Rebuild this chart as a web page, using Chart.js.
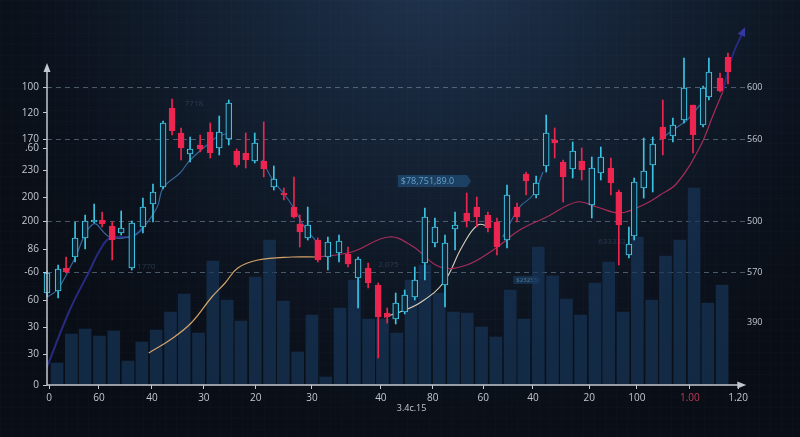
<!DOCTYPE html>
<html>
<head>
<meta charset="utf-8">
<script src="https://cdn.jsdelivr.net/npm/chart.js@4.4.1/dist/chart.umd.min.js"></script>
<style>
  html, body { margin: 0; padding: 0; background: #0a1019; }
  #wrap { width: 800px; height: 437px; position: relative; }
</style>
</head>
<body>
<div id="wrap"><canvas id="chart"></canvas></div>
<script>
/* global Chart */

// --- axis ticks (positions in axis units, labels as printed) ---
const xTickPos = [0.04, 0.98, 1.98, 2.96, 3.94, 5.0, 6.3, 7.28, 8.23, 9.17, 10.23, 11.13, 12.13, 13.04];
const xTickLabels = ['0', '60', '40', '30', '20', '30', '40', '80', '60', '40', '20', '100', '1.00', '1.20'];
const yLeftPos = [0, 31, 58, 85, 113, 136, 164, 188, 215, 237, 246, 272, 298];
const yLeftLabels = ['0', '30', '30', '60', '-60', '86', '200', '200', '230', '.60', '170', '120', '100'];
const yRightPos = [63, 113, 164, 246, 298];
const yRightLabels = ['390', '570', '500', '560', '600'];
const dashedLevels = [113, 164, 246, 298];

// --- candles ---
const candleX = [0.00, 0.21, 0.36, 0.53, 0.72, 0.89, 1.04, 1.23, 1.40, 1.60,
  1.81, 2.00, 2.19, 2.36, 2.53, 2.70, 2.89, 3.08, 3.25, 3.43,
  3.58, 3.75, 3.92, 4.09, 4.28, 4.47, 4.66, 4.77, 4.92, 5.11,
  5.30, 5.51, 5.68, 5.87, 6.06, 6.25, 6.42, 6.58, 6.75, 6.94,
  7.13, 7.32, 7.51, 7.70, 7.92, 8.11, 8.32, 8.49, 8.68, 8.87,
  9.04, 9.23, 9.42, 9.58, 9.74, 9.92, 10.09, 10.28, 10.45, 10.64,
  10.79, 10.98, 11.08, 11.26, 11.43, 11.62, 11.81, 12.02, 12.19, 12.38,
  12.49, 12.70, 12.85];
const openV = [92, 94, 117, 128, 147, 163, 165, 159, 152, 117,
  158, 181, 198, 277, 252, 231, 240, 253, 237, 246,
  234, 232, 224, 224, 198, 192, 178, 161, 147, 145,
  128, 132, 131, 107, 117, 100, 72, 66, 73, 88,
  122, 142, 100, 156, 172, 178, 170, 163, 145, 178,
  211, 190, 219, 245, 223, 216, 224, 180, 212, 217,
  193, 130, 149, 197, 220, 258, 249, 265, 280, 260,
  288, 307, 328];
const closeV = [112, 116, 113, 147, 164, 165, 161, 145, 157, 162,
  178, 193, 262, 254, 237, 236, 236, 232, 253, 282,
  220, 225, 242, 216, 206, 190, 168, 153, 160, 125,
  143, 144, 121, 126, 102, 68, 68, 82, 90, 105,
  168, 158, 142, 160, 164, 168, 157, 138, 190, 168,
  204, 202, 252, 242, 208, 234, 215, 217, 228, 202,
  160, 141, 203, 214, 241, 246, 260, 297, 250, 297,
  313, 294, 313];
const highV = [114, 120, 128, 163, 170, 181, 173, 163, 174, 164,
  187, 201, 264, 286, 257, 248, 250, 262, 269, 285,
  236, 252, 252, 263, 219, 197, 208, 170, 178, 147,
  148, 150, 138, 128, 122, 102, 77, 92, 95, 118,
  177, 167, 150, 173, 192, 188, 173, 167, 200, 182,
  213, 209, 270, 257, 225, 243, 237, 228, 238, 227,
  195, 158, 207, 247, 248, 285, 267, 327, 280, 299,
  327, 312, 332];
const lowV = [88, 87, 112, 123, 136, 162, 158, 125, 150, 115,
  152, 163, 196, 250, 225, 223, 233, 227, 230, 240,
  218, 217, 222, 208, 195, 185, 167, 138, 145, 123,
  115, 123, 118, 77, 97, 27, 62, 61, 71, 85,
  105, 138, 78, 135, 158, 158, 153, 130, 137, 163,
  190, 187, 213, 227, 183, 207, 205, 167, 205, 190,
  120, 127, 145, 187, 193, 230, 243, 262, 232, 258,
  285, 293, 301];

// --- volume ---
const volX = [0.19, 0.46, 0.72, 0.99, 1.26, 1.53, 1.79, 2.06, 2.33, 2.59,
  2.86, 3.13, 3.40, 3.66, 3.93, 4.20, 4.46, 4.73, 5.00, 5.26,
  5.53, 5.80, 6.07, 6.33, 6.60, 6.87, 7.13, 7.40, 7.67, 7.93,
  8.20, 8.47, 8.74, 9.00, 9.27, 9.54, 9.80, 10.07, 10.34, 10.60,
  10.87, 11.14, 11.41, 11.67, 11.94, 12.21, 12.47, 12.74];
const volV = [22, 51, 56, 49, 54, 24, 43, 55, 73, 91,
  52, 124, 85, 64, 108, 145, 84, 33, 70, 8,
  77, 105, 66, 66, 52, 105, 120, 92, 73, 72,
  58, 48, 95, 66, 138, 109, 86, 70, 102, 123,
  73, 148, 85, 129, 145, 197, 82, 100];

// --- moving average lines (null = gap) ---
const blueX = [0, 0.19, 0.49, 0.87, 1.19, 1.62, 1.81, 2.08, 2.19, 2.51, 2.70, 3.02, 3.21, 3.43, 3.7,
  4.06, 4.26, 4.49, 4.68, 4.87, 5.06, 7,
  8.6, 8.92, 9.17, 9.36, 10,
  11.57, 11.81, 12.08, 12.32];
const blueY = [88, 95, 123, 161, 148, 149, 157, 178, 197, 212, 225, 240, 248, 252, null,
  225, 205, 190, 175, 157, 145, null,
  148, 178, 190, 213, null,
  245, 255, 265, 280];
const indigoX = [0, 0.43, 0.81, 1.0, 1.19, 1.62, 1.85, 5, 12.75, 12.94, 13.15];
const indigoY = [18, 75, 115, 135, 147, 149, 160, null, 293, 330, 355];
const yellowX = [1.92, 2.32, 2.72, 3.11, 3.36, 3.6, 3.98, 4.62, 5.11];
const yellowY = [32, 45, 62, 88, 102, 117, 125, 128, 128];
const pinkX = [5.11, 5.75, 6.45, 6.89, 7.42, 7.92, 8.42, 8.92, 9.43, 10.0, 10.38, 10.81, 11.25, 11.57, 11.89, 12.32, 12.57, 12.75];
const pinkY = [128, 133, 148, 139, 118, 120, 135, 155, 168, 183, 178, 172, 180, 190, 202, 238, 270, 293];
const creamX = [6.36, 6.66, 7.06, 7.49, 7.83, 8.13, 8.36];
const creamY = [68, 73, 83, 103, 138, 160, 158];

const CYAN = '#3cc4e4';
const RED = '#ec2650';
const AXIS = '#c3c8d0';

function pts(xs, ys) { return xs.map((x, i) => ({ x, y: ys[i] })); }
const isUp = i => closeV[i] >= openV[i];

const bgPlugin = {
  id: 'bg',
  beforeDraw(chart) {
    const { ctx, width, height } = chart;
    ctx.save();
    ctx.fillStyle = '#090d15';
    ctx.fillRect(0, 0, width, height);
    const g = ctx.createRadialGradient(width * 0.55, -60, 20, width * 0.55, -60, 580);
    g.addColorStop(0, 'rgba(34,56,84,0.95)');
    g.addColorStop(0.45, 'rgba(20,35,54,0.75)');
    g.addColorStop(1, 'rgba(9,13,21,0)');
    ctx.fillStyle = g;
    ctx.fillRect(0, 0, width, height);
    // faint screen texture
    ctx.strokeStyle = 'rgba(120,150,190,0.028)';
    ctx.lineWidth = 1;
    for (let x = 0.5; x < width; x += 11) { ctx.beginPath(); ctx.moveTo(x, 0); ctx.lineTo(x, height); ctx.stroke(); }
    for (let y = 0.5; y < height; y += 11) { ctx.beginPath(); ctx.moveTo(0, y); ctx.lineTo(width, y); ctx.stroke(); }
    ctx.restore();
  }
};

// small floating price tags seen behind the candles
const tagsPlugin = {
  id: 'tags',
  beforeDatasetsDraw(chart) {
    const xs = chart.scales.x, ys = chart.scales.y, ctx = chart.ctx;
    ctx.save();
    const tag = (x0, x1, y, text, alpha, size) => {
      const l = xs.getPixelForValue(x0), r = xs.getPixelForValue(x1), m = ys.getPixelForValue(y);
      const h = size > 8 ? 6 : 4;
      ctx.fillStyle = `rgba(30,72,110,${alpha})`;
      ctx.beginPath();
      ctx.moveTo(l, m - h); ctx.lineTo(r - 4, m - h); ctx.lineTo(r, m); ctx.lineTo(r - 4, m + h); ctx.lineTo(l, m + h);
      ctx.closePath(); ctx.fill();
      ctx.fillStyle = `rgba(110,170,215,${alpha + 0.1})`;
      ctx.font = `${size}px "Open Sans", sans-serif`;
      ctx.textBaseline = 'middle';
      ctx.fillText(text, l + 3, m + 0.5);
    };
    tag(6.62, 8.0, 204, '$78,751,89.0', 0.8, 9);
    tag(8.8, 9.33, 105, '$23233', 0.5, 6);
    ctx.fillStyle = 'rgba(110,140,175,0.28)';
    ctx.font = '8px "Open Sans", sans-serif';
    ctx.fillText('7718', xs.getPixelForValue(2.6), ys.getPixelForValue(281));
    ctx.fillText('1770', xs.getPixelForValue(1.7), ys.getPixelForValue(118));
    ctx.fillText('2.075', xs.getPixelForValue(6.25), ys.getPixelForValue(120));
    ctx.fillText('633333', xs.getPixelForValue(10.4), ys.getPixelForValue(143));
    ctx.restore();
  }
};

const axesPlugin = {
  id: 'axesArrows',
  afterDatasetsDraw(chart) {
    const { ctx, chartArea: a, scales: { x, y } } = chart;
    ctx.save();
    ctx.strokeStyle = AXIS;
    ctx.fillStyle = AXIS;
    ctx.lineWidth = 1.5;
    const top = y.getPixelForValue(318);
    const right = x.getPixelForValue(13.12);
    ctx.beginPath();
    ctx.moveTo(a.left, a.bottom); ctx.lineTo(a.left, top + 4);
    ctx.moveTo(a.left, a.bottom); ctx.lineTo(right - 4, a.bottom);
    ctx.stroke();
    ctx.beginPath();
    ctx.moveTo(a.left, top - 4); ctx.lineTo(a.left - 3.5, top + 5); ctx.lineTo(a.left + 3.5, top + 5); ctx.closePath();
    ctx.moveTo(right + 4, a.bottom); ctx.lineTo(right - 5, a.bottom - 3.5); ctx.lineTo(right - 5, a.bottom + 3.5); ctx.closePath();
    ctx.fill();
    // arrow head on the trend line
    const meta = chart.getDatasetMeta(chart.data.datasets.findIndex(d => d.label === 'Trend'));
    const n = meta.data.length;
    const p1 = meta.data[n - 1], p0 = meta.data[n - 2];
    const ang = Math.atan2(p1.y - p0.y, p1.x - p0.x);
    ctx.fillStyle = '#3538a0';
    ctx.translate(p1.x, p1.y);
    ctx.rotate(ang);
    ctx.beginPath();
    ctx.moveTo(3, 0); ctx.lineTo(-6, -4); ctx.lineTo(-6, 4); ctx.closePath();
    ctx.fill();
    ctx.restore();
    // caption under the time axis
    ctx.save();
    ctx.fillStyle = AXIS;
    ctx.font = '9px "Open Sans", sans-serif';
    ctx.textAlign = 'center';
    ctx.fillText('3.4c.15', x.getPixelForValue(6.88), a.bottom + 26);
    ctx.restore();
  }
};

const lineDs = (label, xs, ys, color, width, order) => ({
  type: 'line', label, data: pts(xs, ys), borderColor: color, borderWidth: width,
  pointRadius: 0, tension: 0.4, spanGaps: false, fill: false, order, clip: 10
});

new Chart(document.getElementById('chart'), {
  type: 'bar',
  data: {
    datasets: [
      {
        label: 'Volume', data: pts(volX, volV), yAxisID: 'y',
        backgroundColor: 'rgba(24,54,90,0.68)', barThickness: 12, grouped: false, order: 10
      },
      lineDs('Trend', indigoX, indigoY, '#282a80', 2, 6),
      lineDs('MA fast', blueX, blueY, '#35659a', 1.2, 5),
      lineDs('MA slow', yellowX, yellowY, '#d4a468', 1.2, 5),
      lineDs('MA long', pinkX, pinkY, '#a82c5a', 1.2, 5),
      lineDs('MA mid', creamX, creamY, '#d8d0bc', 1.1, 5),
      {
        label: 'Wick', data: candleX.map((x, i) => ({ x, y: [lowV[i], highV[i]] })),
        backgroundColor: c => isUp(c.dataIndex) ? CYAN : RED,
        barThickness: 1, grouped: false, order: 3, clip: 8
      },
      {
        label: 'Body', data: candleX.map((x, i) => ({ x, y: [openV[i], closeV[i]] })),
        backgroundColor: c => isUp(c.dataIndex) ? 'rgba(11,26,42,0.92)' : RED,
        borderColor: c => isUp(c.dataIndex) ? CYAN : RED,
        borderWidth: 1.2, borderSkipped: false, barThickness: 6, grouped: false, order: 2, clip: 8
      }
    ]
  },
  options: {
    responsive: true,
    maintainAspectRatio: false,
    animation: false,
    layout: { padding: { top: 20, left: 0, right: 0, bottom: 0 } },
    plugins: { legend: { display: false }, tooltip: { enabled: false } },
    scales: {
      x: {
        type: 'linear', min: 0, max: 13.19, offset: false,
        afterBuildTicks: s => { s.ticks = xTickPos.map(v => ({ value: v })); },
        afterFit: s => { s.height = 52; },
        ticks: {
          autoSkip: false, maxRotation: 0, padding: 3,
          color: c => c.index === 12 ? '#c23a55' : AXIS,
          font: { family: '"Open Sans", sans-serif', size: 10 },
          callback: (v, i) => xTickLabels[i]
        },
        grid: { offset: false, drawOnChartArea: false, tickLength: 4, color: AXIS, tickColor: AXIS },
        border: { display: false }
      },
      y: {
        type: 'linear', position: 'left', min: 0, max: 365,
        afterBuildTicks: s => { s.ticks = yLeftPos.map(v => ({ value: v })); },
        afterFit: s => { s.width = 47; },
        ticks: {
          padding: 4, color: AXIS,
          font: { family: '"Open Sans", sans-serif', size: 10 },
          callback: (v, i) => yLeftLabels[i]
        },
        grid: {
          tickLength: 4, tickColor: AXIS, lineWidth: 1,
          color: c => (c.tick && dashedLevels.includes(c.tick.value)) ? 'rgba(150,172,196,0.45)' : 'rgba(0,0,0,0)'
        },
        border: { display: false, dash: [5, 4] }
      },
      y2: {
        type: 'linear', position: 'right', min: 0, max: 365,
        afterBuildTicks: s => { s.ticks = yRightPos.map(v => ({ value: v })); },
        afterFit: s => { s.width = 54; },
        ticks: {
          padding: 1, color: AXIS,
          font: { family: '"Open Sans", sans-serif', size: 9 },
          callback: (v, i) => yRightLabels[i]
        },
        grid: { display: false, drawTicks: false },
        border: { display: false }
      }
    }
  },
  plugins: [bgPlugin, tagsPlugin, axesPlugin]
});
</script>
</body>
</html>
